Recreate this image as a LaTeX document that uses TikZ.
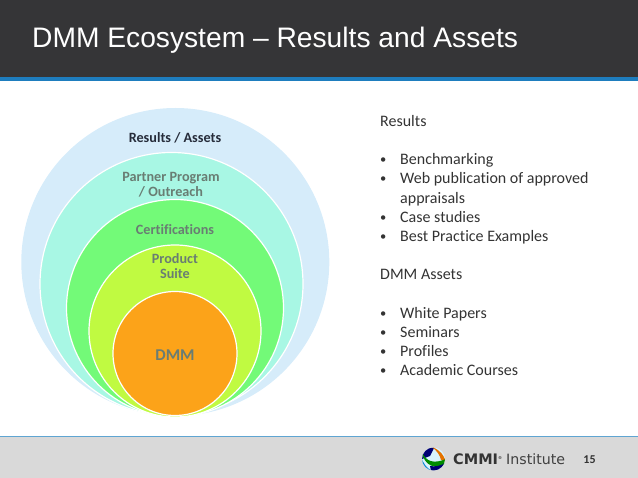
\documentclass[tikz,border=0pt]{standalone}
\usepackage{fontspec}
\setmainfont{Carlito}[Ligatures=NoCommon]
\newfontfamily\titlefont{Liberation Sans}
\newfontfamily\logofont{DejaVu Sans}
\usepackage{tikz}
\usetikzlibrary{positioning}
\definecolor{clrHeader}{RGB}{53,53,55}
\definecolor{clrBand}{RGB}{30,125,190}
\definecolor{clrFooter}{RGB}{217,217,217}
\definecolor{clrLine}{RGB}{95,165,210}
\definecolor{clrOuter}{RGB}{214,236,250}
\definecolor{clrPartner}{RGB}{168,247,228}
\definecolor{clrCert}{RGB}{115,250,120}
\definecolor{clrSuite}{RGB}{192,250,65}
\definecolor{clrCore}{RGB}{252,163,25}
\definecolor{clrLabel}{RGB}{105,125,115}
\definecolor{clrDark}{RGB}{38,44,58}
\tikzstyle{ring_style}=[draw=white, line width=1.2pt, circle, inner sep=0pt]
\tikzstyle{ring_label}=[align=center, font=\fontsize{14.2}{15.5}\selectfont\bfseries, text=clrLabel]
\tikzstyle{body_text}=[anchor=base west, inner sep=0pt, font=\fontsize{16}{19}\selectfont, text=black!80]
\tikzstyle{bullet_text}=[anchor=base west, inner sep=0pt, font=\fontsize{12.5}{14}\selectfont, text=black!80]
\begin{document}
\begin{tikzpicture}[x=1pt, y=-1pt]
		\useasboundingbox (0,0) rectangle (638,478);

		% header and footer
		\fill[clrHeader] (0,0) rectangle (638,77);
		\fill[clrBand] (0,77) rectangle (638,81);
		\fill[clrFooter] (0,437) rectangle (638,478);
		\draw[clrLine, line width=1pt] (0,436.5) -- (638,436.5);
		\node[anchor=base west, inner sep=0pt, text=white, font=\titlefont\fontsize{28.2}{30}\selectfont] (title) at (32,47.5) {DMM Ecosystem – Results and Assets};

		% nested circles
		\node[ring_style, fill=clrOuter, draw=none, minimum size=308pt] (outer) at (175.3,262) {};
		\node[ring_style, fill=clrPartner, minimum size=263pt] (partner) at (171.5,284) {};
		\node[ring_style, fill=clrCert, minimum size=217pt] (cert) at (175,308) {};
		\node[ring_style, fill=clrSuite, minimum size=172pt] (suite) at (175,331) {};
		\node[ring_style, fill=clrCore, minimum size=124pt] (core) at (175,353.5) {};

		\node[ring_label, text=clrDark] (lblresults) at (175,137.5) {Results / Assets};
		\node[ring_label] (lblpartner) at (171,184.5) {Partner Program\\/ Outreach};
		\node[ring_label] (lblcert) at (175,229.5) {Certifications};
		\node[ring_label] (lblsuite) at (175,266) {Product\\Suite};
		\node[ring_label, font=\fontsize{16.5}{18}\selectfont\bfseries] (lblcore) at (175,355) {DMM};

		% right hand text
		\node[body_text] (results) at (380,127) {Results};
		\foreach \name/\ypos in {a/165,b/184,d/222.5,e/241.5,f/319,g/338,h/357,i/376}{
			\node[bullet_text] (bul\name) at (380,\ypos-1) {•};
		}
		\node[body_text] (benchmark) at (400,165) {Benchmarking};
		\node[body_text] (webpub) at (400,184) {Web publication of approved};
		\node[body_text] (appraisals) at (400,203.2) {appraisals};
		\node[body_text] (cases) at (400,222.4) {Case studies};
		\node[body_text] (practice) at (400,241.5) {Best Practice Examples};
		\node[body_text] (assets) at (380,280) {DMM Assets};
		\node[body_text] (papers) at (400,318.5) {White Papers};
		\node[body_text] (seminars) at (400,337.7) {Seminars};
		\node[body_text] (profiles) at (400,356.8) {Profiles};
		\node[body_text] (courses) at (400,376) {Academic Courses};

		% logo
		\begin{scope}
			\clip (433.5,459) circle (11.5);
			\fill[white!85!cyan] (420,446) rectangle (447,472);
			\fill[blue!45!black] (422,448) -- (434,448) -- (430,456) -- (422,459) -- cycle;
			\fill[orange!90!black] (432,447) .. controls (440,450) and (444,455) .. (446,462) -- (441,460) .. controls (440,455) and (437,451) .. (432,447);
			\fill[green!55!black] (422,452) .. controls (426,462) and (434,464) .. (446,459) -- (446,464) .. controls (436,470) and (424,466) .. (422,452);
			\fill[cyan!70!blue] (421,456) .. controls (423,464) and (427,468) .. (432,471) -- (424,471) -- cycle;
			\fill[blue!45!black] (430,466) .. controls (435,467) and (440,466) .. (445,463) -- (442,471) -- (431,471) -- cycle;
		\end{scope}
		\node[anchor=west, inner sep=0pt, text=black!80, font=\logofont\fontsize{14.5}{15}\selectfont\bfseries] (cmmi) at (453,459.5) {CMMI\raisebox{5pt}{\fontsize{4}{4}\selectfont ®}};
		\node[anchor=west, inner sep=0pt, text=black!75, font=\logofont\fontsize{14.2}{15}\selectfont] (institute) at (506,459.5) {Institute};
		\node[inner sep=0pt, text=black!80, font=\fontsize{12}{13}\selectfont\bfseries] (pagenum) at (589.5,459.5) {15};
	\end{tikzpicture}
\end{document}
